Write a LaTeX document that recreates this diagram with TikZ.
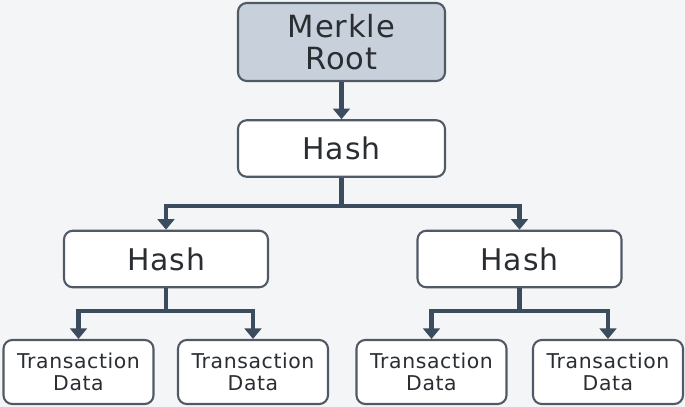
\documentclass[tikz,border=0pt]{standalone}
\usepackage{fontspec}
\setmainfont{DejaVu Sans}
\newfontfamily\boxfont[LetterSpace=3]{DejaVu Sans}
\usetikzlibrary{positioning,arrows.meta}

\definecolor{bgcol}{HTML}{F4F5F6}
\definecolor{rootfill}{HTML}{C8D1DB}
\definecolor{edgecol}{HTML}{505A66}
\definecolor{linkcol}{HTML}{3B4C5E}
\definecolor{txtcol}{HTML}{2A2E33}

\begin{document}
\begin{tikzpicture}[>={Triangle[width=9.5pt,length=6pt]},
  box/.style={draw=edgecol,line width=1.2pt,rounded corners=5pt,fill=white,text=txtcol,align=center,inner sep=0pt},
  hashbox/.style={box,minimum width=4.08cm,minimum height=1.13cm,font=\boxfont\fontsize{17}{18}\selectfont},
  txbox/.style={box,minimum width=3.0cm,minimum height=1.28cm,font=\boxfont\fontsize{11.6}{12.6}\selectfont},
  link/.style={->,draw=linkcol,line width=2.3pt}]
\fill[bgcol] (0,0) rectangle (13.7,-8.14);
\useasboundingbox (0,0) rectangle (13.7,-8.14);

% tree of hashes
\node[box,fill=rootfill,minimum width=4.14cm,minimum height=1.56cm,font=\boxfont\fontsize{17.4}{17.8}\selectfont] (root) at (6.83,-0.84) {Merkle\\Root};
\node[hashbox,minimum width=4.14cm] (hash0) at (6.83,-2.97) {Hash};
\node[hashbox] (hashL) at (3.32,-5.18) {Hash};
\node[hashbox] (hashR) at (10.39,-5.18) {Hash};

% leaves
\node[txbox] (tx1) at (1.57,-7.44) {Transaction\\Data};
\node[txbox] (tx2) at (5.06,-7.44) {Transaction\\Data};
\node[txbox] (tx3) at (8.63,-7.44) {Transaction\\Data};
\node[txbox] (tx4) at (12.16,-7.44) {Transaction\\Data};

\draw[link] (root) -- (hash0);
\draw[link] (hash0.south) -- ++(0,-0.56) -| (hashL.north);
\draw[link] (hash0.south) -- ++(0,-0.56) -| (hashR.north);
\draw[link] (hashL.south) -- ++(0,-0.46) -| (tx1.north);
\draw[link] (hashL.south) -- ++(0,-0.46) -| (tx2.north);
\draw[link] (hashR.south) -- ++(0,-0.46) -| (tx3.north);
\draw[link] (hashR.south) -- ++(0,-0.46) -| (tx4.north);
\end{tikzpicture}
\end{document}
